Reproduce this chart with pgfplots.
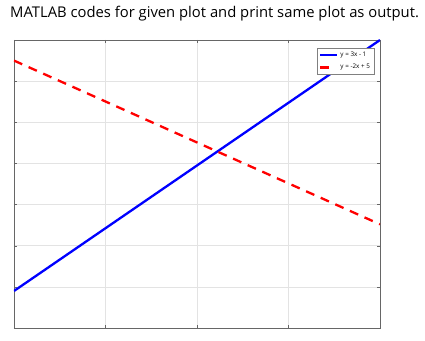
\documentclass[border=0pt]{standalone}
\usepackage{fontspec}
\setmainfont{Open Sans}
\usepackage{pgfplots}
\pgfplotsset{compat=1.18}
\begin{document}
\begin{tikzpicture}[x=1pt,y=1pt]
\useasboundingbox (0,0) rectangle (425,340);
\node[anchor=base west, inner sep=0, font=\fontsize{14.8}{16}\selectfont] at (10,322) {MATLAB codes for given plot and print same plot as output.};
\begin{axis}[at={(14pt,12pt)}, anchor=south west, scale only axis, width=366pt, height=288pt,
 xmin=0, xmax=2, ymin=-2, ymax=5,
 xtick={0,0.5,1,1.5,2}, ytick={-2,-1,0,1,2,3,4,5},
 xticklabels={}, yticklabels={},
 grid=major, grid style={gray!22, line width=0.6pt},
 tick align=inside, major tick length=3pt,
 axis line style={gray!80!black, line width=0.9pt}, tick style={gray!80!black},
 legend style={at={(0.984,0.972)}, anchor=north east, font=\fontsize{6.3}{7}\selectfont, draw=gray, inner sep=2pt, row sep=2pt},
 legend cell align=left]
\addplot[blue, line width=2.3pt] coordinates {(0,-1.1) (2,5.0)};
\addlegendentry{y = 3x - 1}
\addplot[red, line width=2.3pt, dash pattern=on 9pt off 7pt,
  legend image code/.code={\draw[red, line width=2.3pt, solid] (0cm,0cm) -- (0.32cm,0cm);}]
  coordinates {(0,4.5) (2,0.52)};
\addlegendentry{y = -2x + 5}
\end{axis}
\end{tikzpicture}
\end{document}
